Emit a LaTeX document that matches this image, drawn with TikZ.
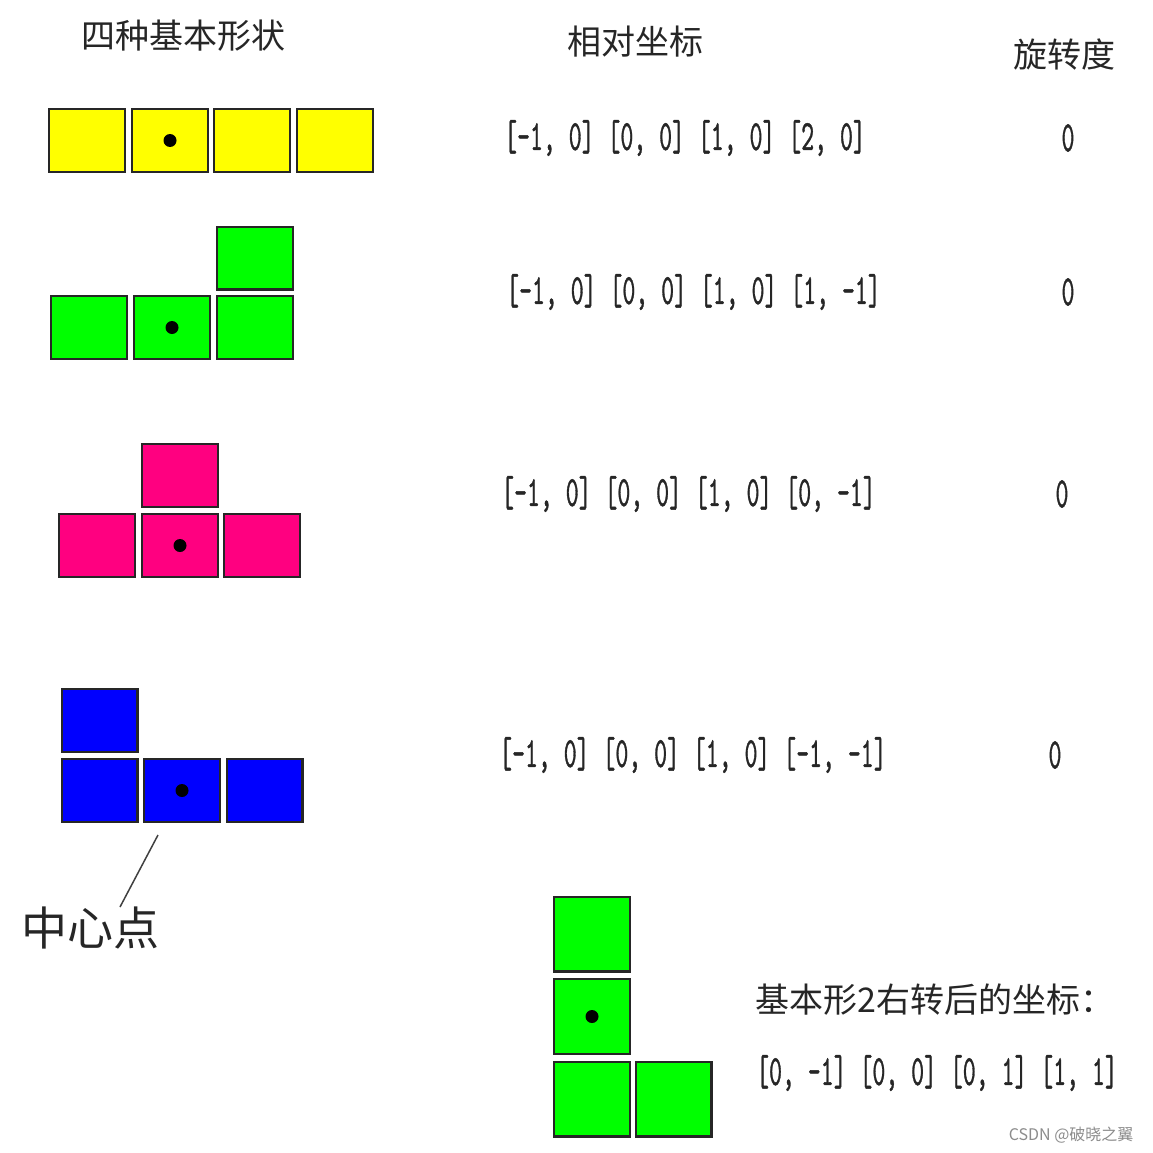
\documentclass[tikz,border=0pt]{standalone}
\usepackage{fontspec}
\usepackage{graphicx}
\newfontfamily\cjk{Noto Sans CJK SC}
\newfontfamily\coordfont{lmmono10-regular.otf}[FakeBold=1.2]
\definecolor{tyellow}{RGB}{255,255,0}
\definecolor{tgreen}{RGB}{0,255,0}
\definecolor{tpink}{RGB}{255,0,128}
\definecolor{tblue}{RGB}{0,0,255}
\newcommand{\stretched}[1]{\scalebox{1}[1.75]{#1}}
\begin{document}
\begin{tikzpicture}[x=1pt,y=-1pt,
    cell/.style={draw=black!85,line width=2.4pt,minimum width=75.6pt,minimum height=62.6pt,inner sep=0pt,outer sep=0pt},
    tallcell/.style={cell,minimum height=74.6pt},
    hub/.style={circle,fill=black,inner sep=0pt,minimum size=13pt},
    heading/.style={font=\cjk\fontsize{34}{38}\selectfont,text=black!85},
    coords/.style={font=\coordfont\fontsize{24.6}{28}\selectfont,text=black!85,inner sep=0pt}]
  \useasboundingbox (0,0) rectangle (1153,1153);
  % headings
  \node[heading] (hshape) at (183,36) {四种基本形状};
  \node[heading] (hcoord) at (635,42) {相对坐标};
  \node[heading] (hrot) at (1064,55) {旋转度};
  % shape 1
  \foreach \x/\n in {87/y1,170/y2,252/y3,335/y4}
    \node[cell,fill=tyellow] (\n) at (\x,140.5) {};
  \node[hub] (yc) at (y2) {};
  % shape 2
  \node[cell,fill=tgreen] (g4) at (255,258) {};
  \foreach \x/\n in {89/g1,172/g2,255/g3}
    \node[cell,fill=tgreen] (\n) at (\x,327.5) {};
  \node[hub] (gc) at (g2) {};
  % shape 3
  \node[cell,fill=tpink] (p4) at (180,475.5) {};
  \foreach \x/\n in {97/p1,180/p2,262/p3}
    \node[cell,fill=tpink] (\n) at (\x,545.5) {};
  \node[hub] (pc) at (p2) {};
  % shape 4
  \node[cell,fill=tblue] (b4) at (99.5,720.5) {};
  \foreach \x/\n in {99.5/b1,182/b2,264.5/b3}
    \node[cell,fill=tblue] (\n) at (\x,790.5) {};
  \node[hub] (bc) at (b2) {};
  % coordinates and rotation
  \node[coords,anchor=west] (c1) at (504,138) {\stretched{[-1, 0] [0, 0] [1, 0] [2, 0]}};
  \node[coords,anchor=west] (c2) at (506,292) {\stretched{[-1, 0] [0, 0] [1, 0] [1, -1]}};
  \node[coords,anchor=west] (c3) at (501,494) {\stretched{[-1, 0] [0, 0] [1, 0] [0, -1]}};
  \node[coords,anchor=west] (c4) at (499,755) {\stretched{[-1, 0] [0, 0] [1, 0] [-1, -1]}};
  \node[coords] (r1) at (1068,138) {\stretched{0}};
  \node[coords] (r2) at (1068,292) {\stretched{0}};
  \node[coords] (r3) at (1062,494) {\stretched{0}};
  \node[coords] (r4) at (1055,755) {\stretched{0}};
  % centre point label
  \node[font=\cjk\fontsize{46}{50}\selectfont,text=black!85] (hublbl) at (90,928) {中心点};
  \coordinate (lead) at (158,835);
  \coordinate (leadend) at (120,907);
  \draw[line width=1.5pt,black!75] (lead) -- (leadend);
  % shape 2 turned right
  \node[tallcell,fill=tgreen] (t1) at (592,934) {};
  \node[tallcell,fill=tgreen] (t2) at (592,1016.5) {};
  \node[tallcell,fill=tgreen] (t3) at (592,1099) {};
  \node[tallcell,fill=tgreen] (t4) at (673.5,1099) {};
  \node[hub] (tc) at (t2) {};
  \node[heading,anchor=west] (turned) at (752,1000) {基本形2右转后的坐标：};
  \node[coords,anchor=west] (c5) at (756,1073) {\stretched{[0, -1] [0, 0] [0, 1] [1, 1]}};
  \node[font=\cjk\fontsize{16}{18}\selectfont,text=black!45,anchor=east] (mark) at (1137,1135) {CSDN @破晓之翼};
\end{tikzpicture}
\end{document}
